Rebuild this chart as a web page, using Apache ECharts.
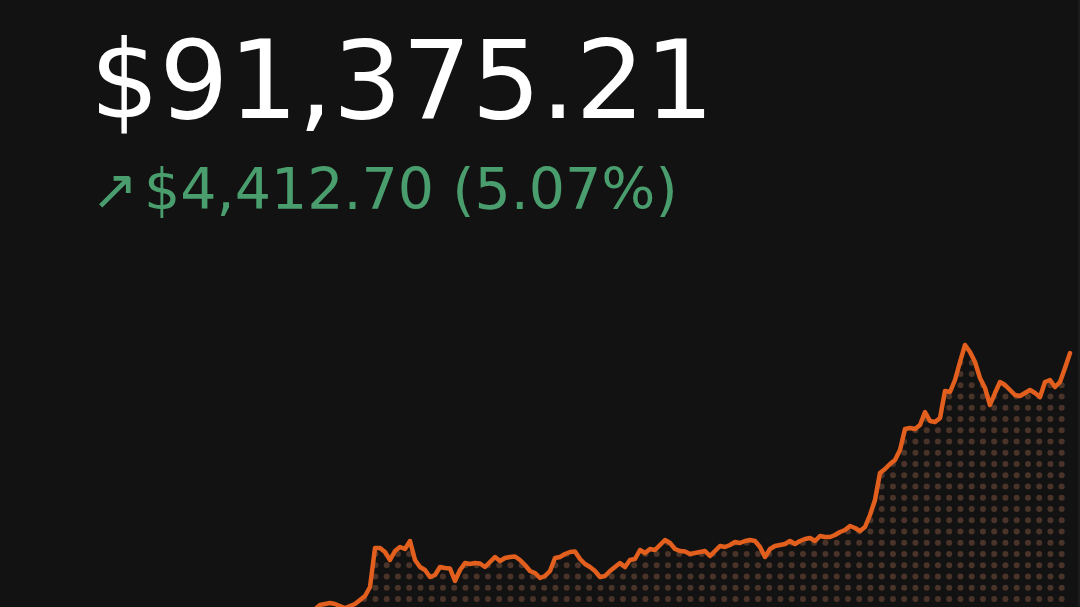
<!DOCTYPE html>
<html>
<head>
<meta charset="utf-8">
<script src="https://cdn.jsdelivr.net/npm/echarts@6/dist/echarts.min.js"></script>
<style>
  html, body { margin: 0; padding: 0; background: #121212; }
  #chart { width: 1080px; height: 607px; }
</style>
</head>
<body>
<div id="chart"></div>
<script>
// ---- Data ----
const priceText = '$91,375.21';
const arrowText = '\u2197';
const changeText = '$4,412.70 (5.07%)';

// price series, one value per time step
const hiddenStart = [
  80540, 80610, 80480, 80390, 80520, 80670, 80580, 80450, 80360, 80410,
  80550, 80620, 80700, 80640, 80510, 80430, 80380, 80300, 80350, 80470,
  80560, 80690, 80750, 80680, 80590, 80520, 80460, 80540, 80630, 80710,
  80780, 80720, 80650, 80580, 80500, 80440, 80490, 80570, 80660, 80740,
  80810, 80760, 80690, 80620, 80560, 80610, 80700, 80790, 80850, 80820,
  80760, 80700, 80650, 80720, 80800, 80880, 80930, 80900, 80850, 80880,
  80950, 81010, 81060, 81130
];
const visiblePrices = [
  81300, 81340, 81380, 81340, 81260, 81180, 81260, 81340, 81500, 81660,
  82020, 83580, 83580, 83420, 83100, 83460, 83620, 83540, 83860, 83100,
  82820, 82700, 82420, 82500, 82820, 82780, 82760, 82260, 82700, 82980,
  82940, 82980, 82960, 82820, 83020, 83220, 83060, 83180, 83220, 83240,
  83100, 82900, 82660, 82580, 82380, 82460, 82660, 83180, 83220, 83340,
  83420, 83440, 83140, 82940, 82820, 82660, 82420, 82460, 82660, 82820,
  82980, 82820, 83100, 83140, 83500, 83380, 83540, 83500, 83700, 83900,
  83780, 83540, 83460, 83440, 83340, 83380, 83420, 83460, 83260, 83460,
  83660, 83620, 83700, 83820, 83780, 83860, 83900, 83860, 83620, 83220,
  83540, 83660, 83700, 83740, 83860, 83740, 83860, 83940, 83980, 83860,
  84060, 84020, 84020, 84100, 84220, 84300, 84460, 84380, 84260, 84420,
  84900, 85500, 86580, 86740, 86940, 87100, 87500, 88340, 88380, 88340,
  88500, 89020, 88660, 88620, 88780, 89860, 89820, 90300, 91020, 91700,
  91420, 91020, 90380, 89980, 89300, 89780, 90220, 90100, 89900, 89700,
  89660, 89780, 89900, 89780, 89620, 90220, 90300, 90020, 90220, 90780,
  91375.21
];
const prices = hiddenStart.concat(visiblePrices);
const categories = prices.map((_, i) => 'T' + i);

// ---- Dot pattern for the area ----
function makeDots() {
  const size = 45, step = 11.25;
  const c = document.createElement('canvas');
  c.width = size; c.height = size;
  const ctx = c.getContext('2d');
  ctx.fillStyle = '#4a3429';
  for (let i = 0; i < 4; i++) {
    for (let j = 0; j < 4; j++) {
      ctx.beginPath();
      ctx.arc(4.2 + step * i, 2.75 + step * j, 3, 0, Math.PI * 2);
      ctx.fill();
    }
  }
  return c;
}

const chart = echarts.init(document.getElementById('chart'), null, { renderer: 'canvas' });
chart.setOption({
  backgroundColor: '#121212',
  animation: false,
  grid: { left: 0, right: 10, top: 0, bottom: 0 },
  xAxis: {
    type: 'category', data: categories, boundaryGap: false,
    show: false
  },
  yAxis: {
    type: 'value', min: 81220, max: 105500, show: false,
    splitLine: { show: false }
  },
  series: [{
    type: 'line',
    data: prices,
    showSymbol: false,
    symbol: 'none',
    smooth: false,
    lineStyle: { color: '#e35f1e', width: 4.5, join: 'round', cap: 'round' },
    areaStyle: { color: { image: makeDots(), repeat: 'repeat' }, opacity: 1 },
    z: 2
  }],
  graphic: [
    {
      type: 'text', x: 90, y: 35, z: 10,
      style: {
        text: priceText, fill: '#ffffff',
        fontFamily: 'DejaVu Sans', fontSize: 109, fontWeight: 'normal',
        verticalAlign: 'top'
      }
    },
    {
      type: 'text', x: 91, y: 166, z: 10,
      style: {
        text: arrowText, fill: '#4a9e6e',
        fontFamily: 'DejaVu Sans', fontSize: 56, fontWeight: 'normal',
        verticalAlign: 'top'
      }
    },
    {
      type: 'text', x: 144, y: 166, z: 10,
      style: {
        text: changeText, fill: '#4a9e6e',
        fontFamily: 'DejaVu Sans', fontSize: 57, fontWeight: 'normal',
        verticalAlign: 'top'
      }
    },
    {
      type: 'rect', shape: { x: 1078, y: 0, width: 2, height: 607 }, z: 10,
      style: { fill: '#1c1c1c' }
    }
  ]
});
</script>
</body>
</html>
